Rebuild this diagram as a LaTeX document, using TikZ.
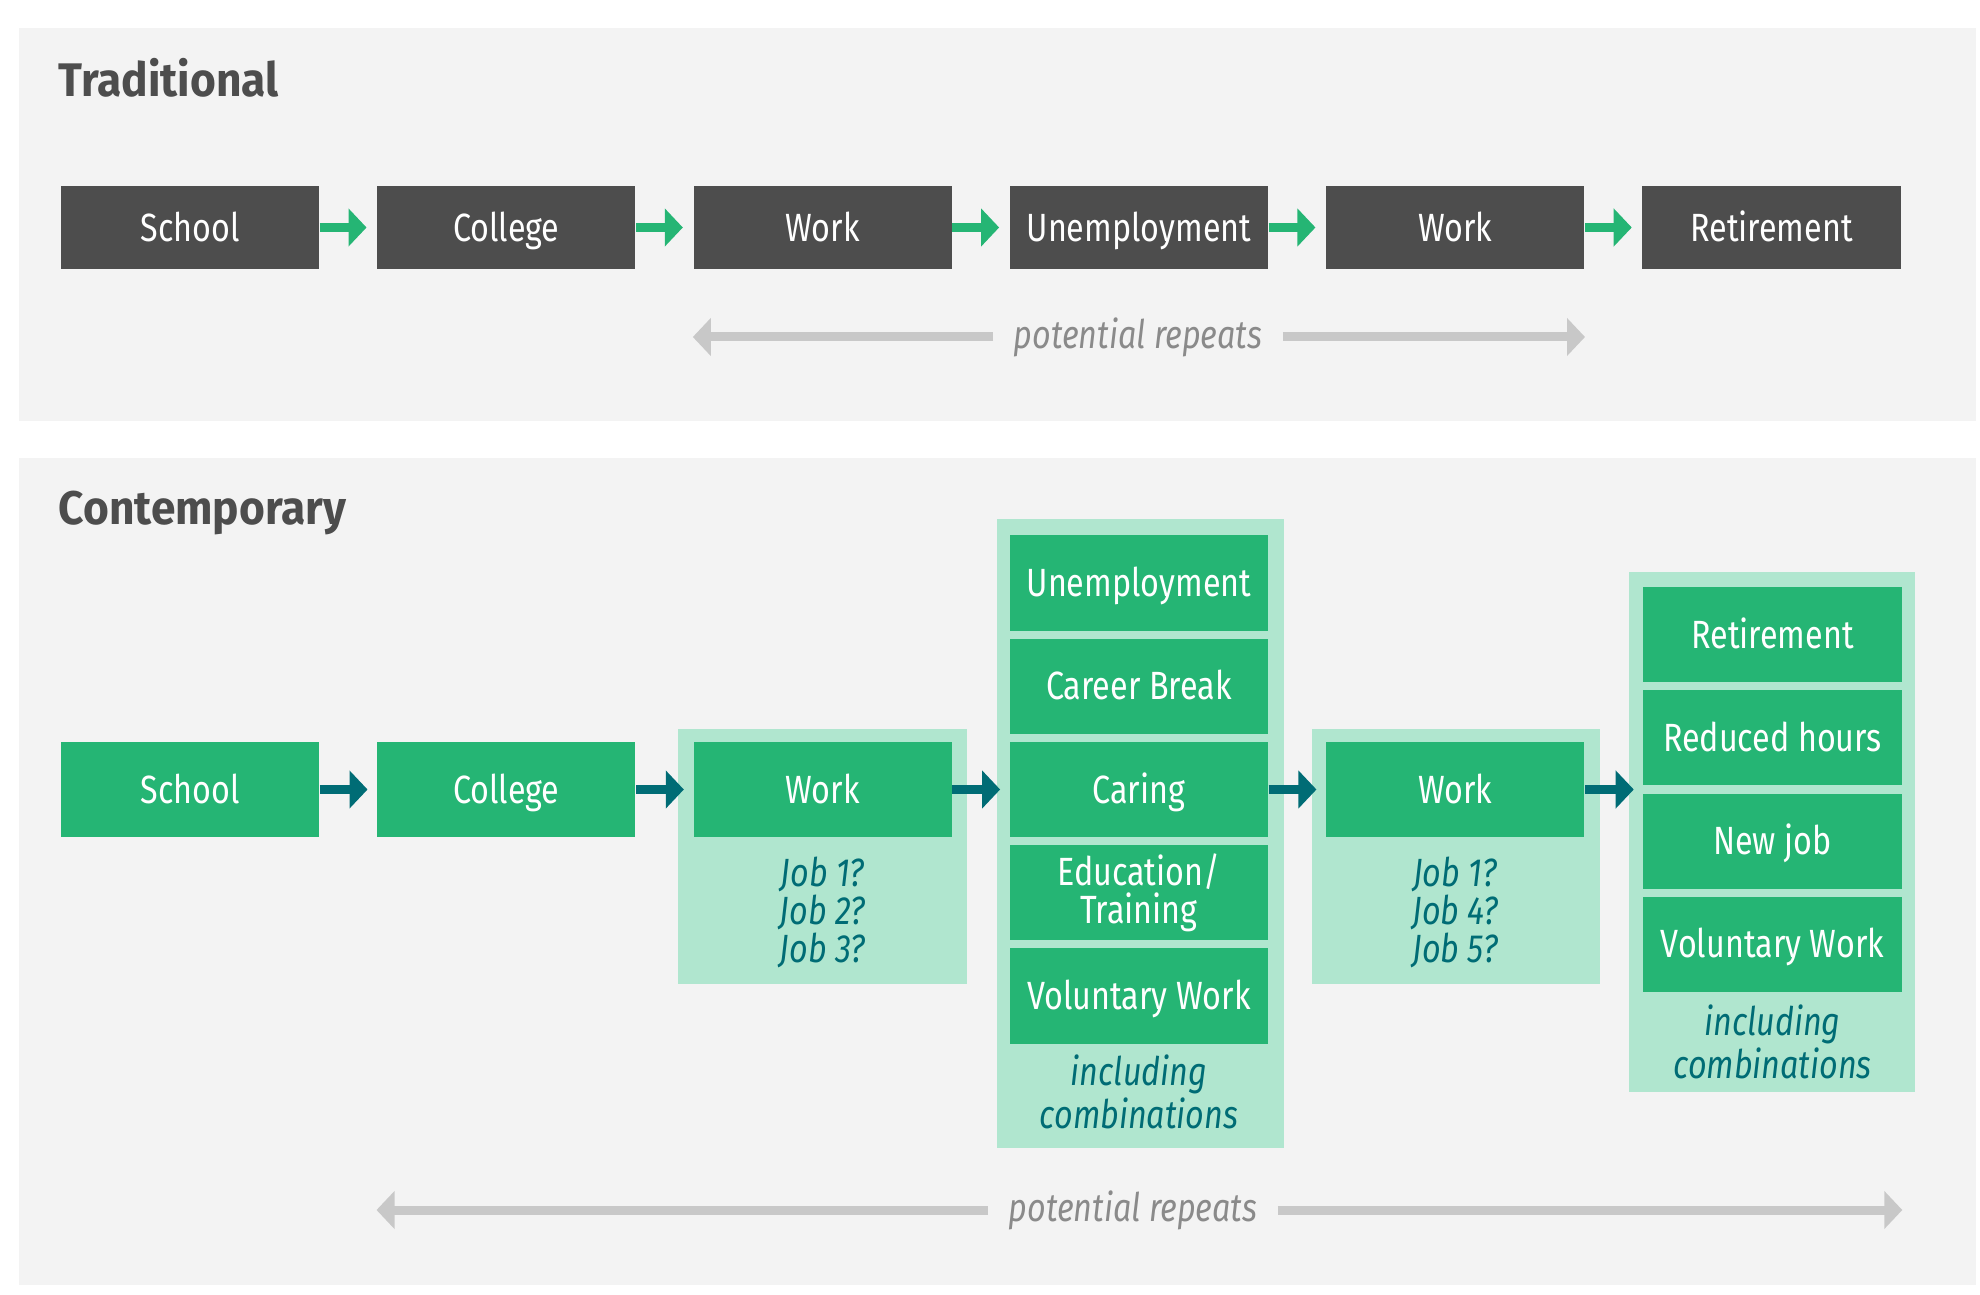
\documentclass[tikz,border=0pt]{standalone}
\usepackage{fontspec}
\setmainfont{Fira Sans}[FakeStretch=0.82]
\newfontfamily\headfont{Fira Sans}[FakeStretch=0.94]
\usepackage{xcolor}
\definecolor{panelgray}{HTML}{F3F3F3}
\definecolor{darkbox}{HTML}{4D4D4D}
\definecolor{leafgreen}{HTML}{25B574}
\definecolor{palegreen}{HTML}{B0E6CF}
\definecolor{deepteal}{HTML}{006C75}
\definecolor{arrowgray}{HTML}{C8C8C8}
\definecolor{notegray}{HTML}{8A8A8A}
\usetikzlibrary{arrows.meta}
\tikzset{>={Triangle[length=1.8mm, width=3.7mm]}}

\begin{document}
\begin{tikzpicture}[x=0.01cm, y=-0.01cm,
  stage/.style={inner sep=0pt, minimum width=2.58cm, text=white, align=center,
    font=\fontsize{11.2}{10.8}\selectfont},
  oneline/.style={text height=7.7pt, text depth=0pt},
  oldstage/.style={stage, oneline, fill=darkbox, minimum height=0.83cm},
  newpair/.style={stage, fill=leafgreen, minimum height=0.95cm},
  newstage/.style={newpair, oneline},
  heading/.style={anchor=base west, inner sep=0pt, text=darkbox,
    font=\headfont\bfseries\fontsize{13.4}{15}\selectfont},
  note/.style={inner sep=0pt, text=deepteal, align=center,
    font=\itshape\fontsize{11.2}{10.8}\selectfont},
  repeats/.style={inner sep=0.2cm, text=notegray, font=\itshape\fontsize{11.2}{13}\selectfont},
  greenflow/.style={->, leafgreen, line width=0.09cm, shorten >=1mm},
  tealflow/.style={->, deepteal, line width=0.09cm, shorten >=0.9mm},
  grayflow/.style={->, arrowgray, line width=0.09cm}]

  \useasboundingbox (0,0) rectangle (1980,1295);

  % panels
  \fill[panelgray] (19,28) rectangle (1976,421);
  \fill[panelgray] (19,458) rectangle (1976,1285);

  % traditional path
  \node[heading] (trad) at (58,97) {Traditional};
  \node[oldstage] (t1) at (190,227.5) {School};
  \node[oldstage] (t2) at (506.3,227.5) {College};
  \node[oldstage] (t3) at (822.6,227.5) {Work};
  \node[oldstage] (t4) at (1138.9,227.5) {Unemployment};
  \node[oldstage] (t5) at (1455.2,227.5) {Work};
  \node[oldstage] (t6) at (1771.5,227.5) {Retirement};
  \draw[greenflow] (t1.east) -- (t2.west);
  \draw[greenflow] (t2.east) -- (t3.west);
  \draw[greenflow] (t3.east) -- (t4.west);
  \draw[greenflow] (t4.east) -- (t5.west);
  \draw[greenflow] (t5.east) -- (t6.west);

  \node[repeats] (trep) at (1138,337) {potential repeats};
  \draw[grayflow] (trep.west) -- (t3.west |- trep.west);
  \draw[grayflow] (trep.east) -- (t5.east |- trep.east);

  % contemporary path
  \node[heading] (cont) at (58,525) {Contemporary};

  % light groups behind the stages
  \fill[palegreen] (678,729) rectangle (967,984);
  \fill[palegreen] (997,519) rectangle (1284,1148);
  \fill[palegreen] (1312,729) rectangle (1600,984);
  \fill[palegreen] (1629,572) rectangle (1915,1092);

  \node[newstage] (c1) at (190,789.5) {School};
  \node[newstage] (c2) at (506.3,789.5) {College};
  \node[newstage] (w1) at (822.6,789.5) {Work};
  \node[note] (j1) at (822.6,912) {Job 1?\\Job 2?\\Job 3?};

  \node[newstage] (m1) at (1138.9,583) {Unemployment};
  \node[newstage] (m2) at (1138.9,686.3) {Career Break};
  \node[newstage] (m3) at (1138.9,789.5) {Caring};
  \node[newpair] (m4) at (1138.9,892.8) {Education/\\Training};
  \node[newstage] (m5) at (1138.9,996) {Voluntary Work};
  \node[note] (mc) at (1138.9,1092) {including\\combinations};

  \node[newstage] (w2) at (1455.2,789.5) {Work};
  \node[note] (j2) at (1455.2,912) {Job 1?\\Job 4?\\Job 5?};

  \node[newstage] (r1) at (1772.5,634.6) {Retirement};
  \node[newstage] (r2) at (1772.5,737.9) {Reduced hours};
  \node[newstage] (r3) at (1772.5,841.1) {New job};
  \node[newstage] (r4) at (1772.5,944.4) {Voluntary Work};
  \node[note] (rc) at (1772.5,1042) {including\\combinations};

  \draw[tealflow] (c1.east) -- (c2.west);
  \draw[tealflow] (c2.east) -- (w1.west);
  \draw[tealflow] (w1.east) -- (m3.west);
  \draw[tealflow] (m3.east) -- (w2.west);
  \draw[tealflow] (w2.east) -- (r2.west |- w2.east);

  \node[repeats] (crep) at (1133,1210) {potential repeats};
  \draw[grayflow] (crep.west) -- (c2.west |- crep.west);
  \draw[grayflow] (crep.east) -- (r1.east |- crep.east);

\end{tikzpicture}
\end{document}
